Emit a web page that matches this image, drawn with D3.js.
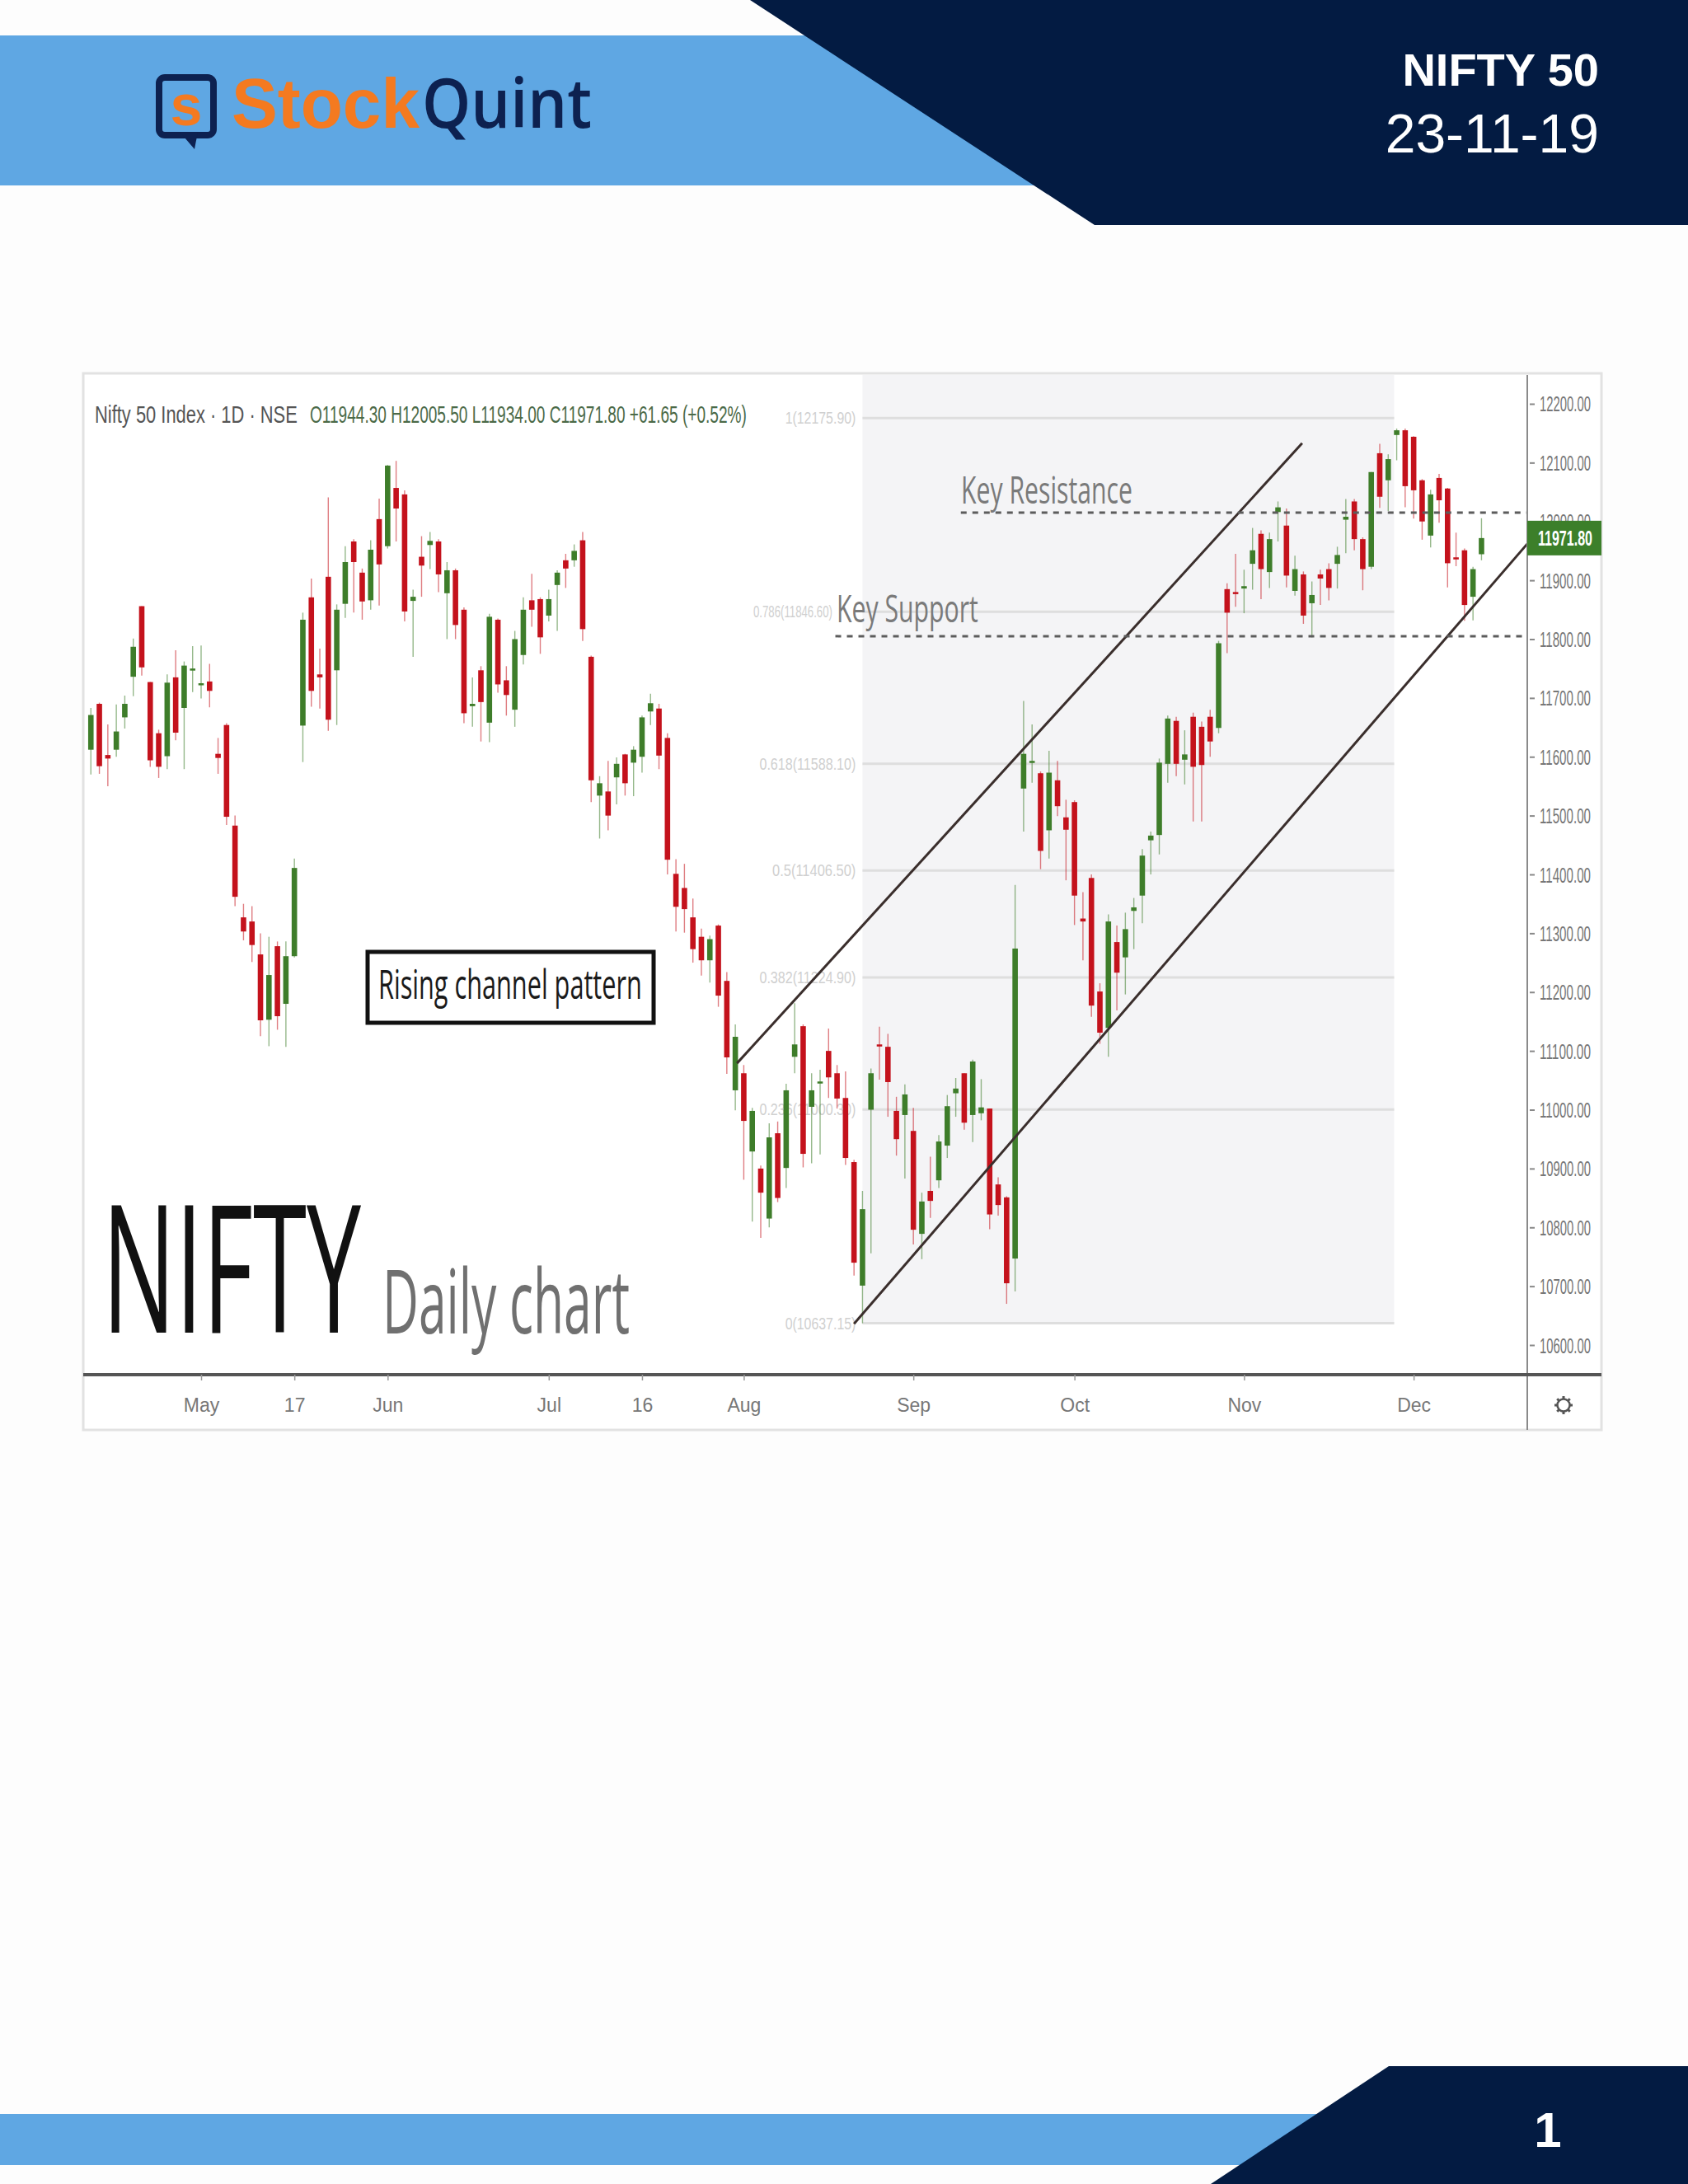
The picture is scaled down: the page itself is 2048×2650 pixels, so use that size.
<!DOCTYPE html>
<html><head><meta charset="utf-8">
<script src="https://cdn.jsdelivr.net/npm/d3@7"></script>
<style>html,body{margin:0;padding:0;background:#fdfdfd;}svg{display:block;}</style>
</head><body>
<svg id="page" width="2048" height="2650"></svg>
<script>
// ---------------- DATA (Nifty 50, daily, 9 Apr 2019 – 12 Dec 2019) ----------------
const opens = [11612,11690,11603,11612,11667,11736,11856,11727,11640,11601,11735,11683,11748,
11725,11728,11605,11654,11483,11327,11320,11264,11153,11278,11180,11261,11653,11871,11740,11906,11747,11860,11966,11913,11866,12004,
11958,12057,12046,11865,11940,11960,11966,11878,11917,11850,11686,11747,11658,11833,11730,11680,11773,11866,11868,
11840,11892,11934,11934,11968,11770,11534,11541,11565,11604,11590,11600,11677,11682,11632,11401,11377,11327,11294,11254,11313,11219,11033,
11062,10929,10900,10815,10960,10901,11090,11142,11005,11046,11100,11062,11020,10911,10701,11000,11111,11107,10998,10991,
10964,10789,10862,10880,10939,11028,11062,10991,10994,11002,10873,10851,10747,11546,11590,11572,11475,11560,11497,
11523,11325,11394,11201,11139,11285,11259,11338,11364,11458,11467,11588,11661,11595,11668,11651,11668,11649,11885,11880,
11886,11928,11979,11914,12016,11993,11882,11910,11861,11910,11919,11928,12003,12034,11970,11923,12116,12070,12147,12155,
12144,12070,11976,12074,12056,11939,11951,11872,11944.3];
const highs = [11683,11692,11655,11689,11704,11801,11856,11727,11646,11740,11781,11762,11788,
11789,11758,11632,11657,11500,11350,11346,11300,11294,11286,11286,11427,11845,11903,11784,12041,11859,11958,11970,11920,11968,12039,
12096,12103,12053,11884,11975,11982,11970,11931,11920,11854,11735,11754,11843,11835,11754,11814,11871,11911,11871,
11884,11917,11945,11961,11982,11772,11567,11593,11599,11605,11618,11670,11707,11690,11640,11426,11418,11359,11308,11296,11315,11234,11145,
11076,11003,10905,10977,10980,11044,11181,11145,11062,11068,11138,11076,11065,10915,10862,11070,11141,11129,11022,11043,
11003,10859,10920,10957,11025,11054,11062,11085,11052,11002,10885,10853,11382,11695,11655,11575,11610,11593,11527,
11526,11370,11400,11215,11332,11313,11335,11360,11443,11473,11597,11670,11668,11645,11675,11660,11680,11797,11895,11945,
11918,11989,11985,11981,12034,12022,11942,11915,11898,11918,11929,11957,12038,12038,11973,12084,12132,12114,12158,12158,
12145,12072,12054,12081,12057,11981,11954,11923,12005.5];
const lows = [11570,11571,11550,11600,11648,11703,11738,11583,11564,11579,11628,11579,11710,
11699,11684,11571,11484,11346,11288,11251,11125,11108,11136,11107,11259,11591,11685,11682,11644,11654,11836,11845,11833,11850,11857,
11954,11966,11830,11770,11872,11919,11880,11800,11800,11657,11651,11626,11625,11709,11670,11651,11757,11821,11775,
11830,11814,11887,11923,11797,11523,11461,11475,11519,11534,11533,11573,11654,11579,11400,11303,11301,11250,11228,11216,11175,11061,10999,
10881,10810,10782,10800,10843,10867,11062,10902,10909,10924,11020,11002,10906,10718,10637,10756,11051,10988,10922,10883,
10771,10746,10816,10867,10918,10988,10966,10945,10982,10797,10820,10670,10691,11473,11556,11409,11427,11499,11390,
11314,11254,11158,11112,11090,11169,11196,11273,11317,11400,11434,11556,11567,11553,11490,11490,11600,11640,11776,11855,
11844,11884,11868,11887,11966,11888,11874,11826,11803,11858,11866,11886,11946,11951,11883,11919,12023,12018,12104,12024,
12005,11969,11956,11998,11888,11924,11831,11832,11934];
const closes = [11671,11584,11597,11643,11690,11787,11752,11594,11583,11726,11641,11755,11750,
11725,11712,11598,11498,11362,11303,11280,11152,11229,11159,11261,11411,11833,11712,11735,11663,11850,11931,11931,11864,11952,11927,
12095,12022,11847,11872,11925,11967,11910,11917,11824,11674,11690,11693,11838,11723,11705,11800,11850,11850,11803,
11868,11913,11920,11950,11817,11560,11555,11500,11588,11555,11612,11667,11691,11602,11425,11345,11341,11273,11254,11290,11194,11089,11124,
10981,10998,10859,10953,10850,11033,11111,10925,11033,11048,11055,11019,10918,10740,10831,11062,11108,11047,10950,11026,
10796,10844,10845,10946,11006,11036,10978,11082,11004,10822,10838,10705,11274,11605,11593,11440,11573,11516,11476,
11364,11320,11177,11131,11320,11233,11307,11344,11432,11466,11590,11665,11588,11604,11583,11586,11626,11793,11845,11877,
11890,11951,11919,11970,12024,11908,11919,11840,11875,11903,11887,11943,12008,11970,11919,12084,12042,12106,12155,12060,
12053,12000,12046,12036,11929,11937,11858,11919,11971.8];

// x-axis ticks (candle index -> label)
const xTickIdx    = [13, 24, 35, 54, 65, 77, 97, 116, 136, 156];
const xTickLabels = ["May","17","Jun","Jul","16","Aug","Sep","Oct","Nov","Dec"];
// price-axis ticks
const yTicks = [10600,10700,10800,10900,11000,11100,11200,11300,11400,11500,11600,11700,11800,11900,12000,12100,12200];
// Fibonacci retracement levels
const fibValues = [12175.9, 11846.6, 11588.1, 11406.5, 11224.9, 11000.3, 10637.15];
const fibLabels = ["1(12175.90)","0.786(11846.60)","0.618(11588.10)","0.5(11406.50)","0.382(11224.90)","0.236(11000.30)","0(10637.15)"];
const fibRange = [91, 153.7];            // candle-index span of the retracement
// Rising channel trend lines: [startIdx, startVal, endIdx, endVal]
const upperChannel = [76.2, 11079, 142.85, 12133];
const lowerChannel = [90, 10636, 169.4, 11962];
// Key levels
const keyLevels  = [12015, 11805];
const keyStarts  = [102.6, 87.8];
const keyNames   = ["Key Resistance", "Key Support"];
const lastPrice  = 11971.80;
const legendName = "Nifty 50 Index · 1D · NSE";
const legendVals = "O11944.30  H12005.50  L11934.00  C11971.80  +61.65 (+0.52%)";

// ---------------- LAYOUT ----------------
const svg = d3.select("#page");
const W = 2048, H = 2650;
const plot = {l: 101, r: 1853, t: 455, b: 1668};
const x = d3.scaleLinear().domain([-0.9, 169.4]).range([plot.l, plot.r]);
const y = d3.scaleLinear().domain([10549.6, 12249]).range([plot.b, plot.t]);
const UP = "#3e7d2a", DOWN = "#c4121c";
const SANS = "'Liberation Sans',Arial,sans-serif";
const OPEN = "'Open Sans',sans-serif";

// squeeze a text horizontally to a target width (condensed look) via a transform
function fit(sel, x0, y0, target, anchor) {
  sel.attr("x", 0).attr("y", 0).attr("text-anchor", "start");
  const w = sel.node().getComputedTextLength();
  const s = target / w;
  const tx = anchor === "end" ? x0 - target : anchor === "middle" ? x0 - target / 2 : x0;
  sel.attr("transform", `translate(${tx},${y0}) scale(${s},1)`);
  return sel;
}

svg.append("rect").attr("width", W).attr("height", H).attr("fill", "#fdfdfd");

// ---------- header ----------
svg.append("rect").attr("x", 0).attr("y", 43).attr("width", W).attr("height", 182).attr("fill", "#5fa7e3");
svg.append("polygon").attr("points", "910,0 2048,0 2048,273 1328,273").attr("fill", "#031b42");
const logo = svg.append("g");
logo.append("rect").attr("x", 193).attr("y", 94).attr("width", 66).attr("height", 70).attr("rx", 7)
  .attr("fill", "none").attr("stroke", "#0d2150").attr("stroke-width", 8);
logo.append("polygon").attr("points", "218,160 240,160 236,181").attr("fill", "#0d2150");
logo.append("text").attr("x", 226).attr("y", 152).attr("text-anchor", "middle")
  .attr("font-family", SANS).attr("font-weight", 700).attr("font-size", 70)
  .attr("fill", "#f47a20").text("s");
fit(logo.append("text").attr("font-family", SANS).attr("font-weight", 700).attr("font-size", 86)
  .attr("fill", "#f47a20").text("Stock"), 281, 155, 228);
fit(logo.append("text").attr("font-family", OPEN).attr("font-weight", 600).attr("font-size", 84)
  .attr("fill", "#0d2150").text("Quint"), 512, 155, 206);
svg.append("text").attr("x", 1940).attr("y", 104).attr("text-anchor", "end")
  .attr("font-family", SANS).attr("font-weight", 700).attr("font-size", 56)
  .attr("fill", "#ffffff").text("NIFTY 50");
svg.append("text").attr("x", 1940).attr("y", 185).attr("text-anchor", "end")
  .attr("font-family", SANS).attr("font-size", 66).attr("fill", "#ffffff").text("23-11-19");

// ---------- chart frame ----------
svg.append("rect").attr("x", 101).attr("y", 453).attr("width", 1842).attr("height", 1282)
  .attr("fill", "#ffffff").attr("stroke", "#e2e2e2").attr("stroke-width", 3);

// fib shading + levels
const fib = svg.append("g");
fib.append("rect").attr("x", x(fibRange[0])).attr("y", plot.t)
  .attr("width", x(fibRange[1]) - x(fibRange[0])).attr("height", y(fibValues[6]) - plot.t)
  .attr("fill", "#f4f4f6");
fib.selectAll("line").data(fibValues).join("line")
  .attr("x1", x(fibRange[0])).attr("x2", x(fibRange[1]))
  .attr("y1", d => y(d)).attr("y2", d => y(d))
  .attr("stroke", "#dedede").attr("stroke-width", 3);
fib.selectAll("text").data(fibLabels).join("text")
  .attr("font-family", SANS).attr("font-size", 21).attr("fill", "#d0d0d0").text(d => d)
  .each(function(d, i) {
    // the 0.786 label is cut short by the "Key Support" note, as in the source
    fit(d3.select(this), i === 1 ? 1010 : x(fibRange[0]) - 8, y(fibValues[i]) + 7,
        i === 1 ? 96 : d.length * 7.8, "end");
  });

// candles
const candles = opens.map((o, i) => ({i, o, h: highs[i], l: lows[i], c: closes[i]}));
const cg = svg.append("g");
cg.selectAll("line").data(candles).join("line")
  .attr("x1", d => x(d.i)).attr("x2", d => x(d.i))
  .attr("y1", d => y(d.h)).attr("y2", d => y(d.l))
  .attr("stroke", d => d.c >= d.o ? UP : DOWN).attr("stroke-opacity", 0.55).attr("stroke-width", 1.4);
const bw = 6.6;
cg.selectAll("rect").data(candles).join("rect")
  .attr("x", d => x(d.i) - bw / 2).attr("width", bw)
  .attr("y", d => y(Math.max(d.o, d.c)))
  .attr("height", d => Math.max(2.5, Math.abs(y(d.o) - y(d.c))))
  .attr("fill", d => d.c >= d.o ? UP : DOWN);

// channel lines
svg.selectAll("line.chan").data([upperChannel, lowerChannel]).join("line").attr("class", "chan")
  .attr("x1", d => x(d[0])).attr("y1", d => y(d[1])).attr("x2", d => x(d[2])).attr("y2", d => y(d[3]))
  .attr("stroke", "#3a2e2c").attr("stroke-width", 3);

// key level dashed lines + notes
svg.selectAll("line.key").data(keyLevels).join("line").attr("class", "key")
  .attr("x1", (d, i) => x(keyStarts[i])).attr("x2", plot.r)
  .attr("y1", d => y(d)).attr("y2", d => y(d))
  .attr("stroke", "#5c5c5c").attr("stroke-width", 3).attr("stroke-dasharray", "7,7");
fit(svg.append("text").attr("font-family", OPEN).attr("font-size", 46).attr("fill", "#7a7a7a")
  .text(keyNames[0]), 1166, 611, 208);
fit(svg.append("text").attr("font-family", OPEN).attr("font-size", 46).attr("fill", "#7a7a7a")
  .text(keyNames[1]), 1015, 755, 172);

// legend
fit(svg.append("text").attr("font-family", SANS).attr("font-size", 30).attr("fill", "#555")
  .text(legendName), 115, 513, 246);
fit(svg.append("text").attr("font-family", SANS).attr("font-size", 30).attr("fill", "#4b6a48")
  .text(legendVals), 376, 513, 530);

// annotations
svg.append("rect").attr("x", 446).attr("y", 1155).attr("width", 347).attr("height", 86)
  .attr("fill", "#ffffff").attr("stroke", "#111").attr("stroke-width", 5);
fit(svg.append("text").attr("font-family", OPEN).attr("font-size", 50).attr("fill", "#1a1a1a")
  .text("Rising channel pattern"), 459, 1212, 320);
fit(svg.append("text").attr("font-family", OPEN).attr("font-size", 216).attr("fill", "#111")
  .text("NIFTY"), 124, 1617, 314);
fit(svg.append("text").attr("font-family", OPEN).attr("font-size", 108).attr("fill", "#707070")
  .text("Daily chart"), 464, 1618, 300);

// ---------- price axis ----------
svg.append("line").attr("x1", plot.r).attr("x2", plot.r).attr("y1", 455).attr("y2", 1735)
  .attr("stroke", "#8a8a8a").attr("stroke-width", 2);
const yAxis = svg.append("g").attr("transform", `translate(${plot.r + 3},0)`)
  .call(d3.axisRight(y).tickValues(yTicks).tickFormat(d3.format(".2f")).tickSize(6).tickPadding(6));
yAxis.select(".domain").remove();
yAxis.selectAll(".tick line").attr("stroke", "#888").attr("stroke-width", 2);
yAxis.selectAll(".tick text").attr("font-family", SANS).attr("font-size", 25).attr("fill", "#777")
  .attr("dy", null)
  .each(function() { fit(d3.select(this), 12, 9, 62); });
// last price tag
svg.append("rect").attr("x", plot.r).attr("y", y(lastPrice) - 21).attr("width", 90).attr("height", 42)
  .attr("fill", "#3c7f2a");
fit(svg.append("text").attr("font-family", SANS).attr("font-size", 26).attr("font-weight", 700)
  .attr("fill", "#ffffff").text(d3.format(".2f")(lastPrice)), plot.r + 46, y(lastPrice) + 9, 66, "middle");

// ---------- time axis ----------
svg.append("line").attr("x1", 101).attr("x2", 1943).attr("y1", plot.b).attr("y2", plot.b)
  .attr("stroke", "#555").attr("stroke-width", 4);
const xAxis = svg.append("g").attr("transform", `translate(0,${plot.b})`)
  .call(d3.axisBottom(x).tickValues(xTickIdx).tickFormat((d, i) => xTickLabels[i]).tickSize(7).tickPadding(22));
xAxis.select(".domain").remove();
xAxis.selectAll(".tick line").attr("stroke", "#999").attr("stroke-width", 1.5);
xAxis.selectAll(".tick text").attr("font-family", SANS).attr("font-size", 23).attr("fill", "#777");

// gear icon
const gear = svg.append("g").attr("transform", "translate(1897,1705)");
d3.range(8).forEach(k => {
  const a = k * Math.PI / 4;
  gear.append("line").attr("x1", 7 * Math.cos(a)).attr("y1", 7 * Math.sin(a))
    .attr("x2", 11 * Math.cos(a)).attr("y2", 11 * Math.sin(a)).attr("stroke", "#555").attr("stroke-width", 3);
});
gear.append("circle").attr("r", 7.5).attr("fill", "#fff").attr("stroke", "#555").attr("stroke-width", 2.5);

// ---------- footer ----------
svg.append("rect").attr("x", 0).attr("y", 2565).attr("width", W).attr("height", 62).attr("fill", "#5fa7e3");
svg.append("polygon").attr("points", "1685,2507 2048,2507 2048,2650 1469,2650").attr("fill", "#031b42");
svg.append("text").attr("x", 1878).attr("y", 2605).attr("text-anchor", "middle")
  .attr("font-family", SANS).attr("font-weight", 700).attr("font-size", 60)
  .attr("fill", "#ffffff").text("1");
</script>
</body></html>
